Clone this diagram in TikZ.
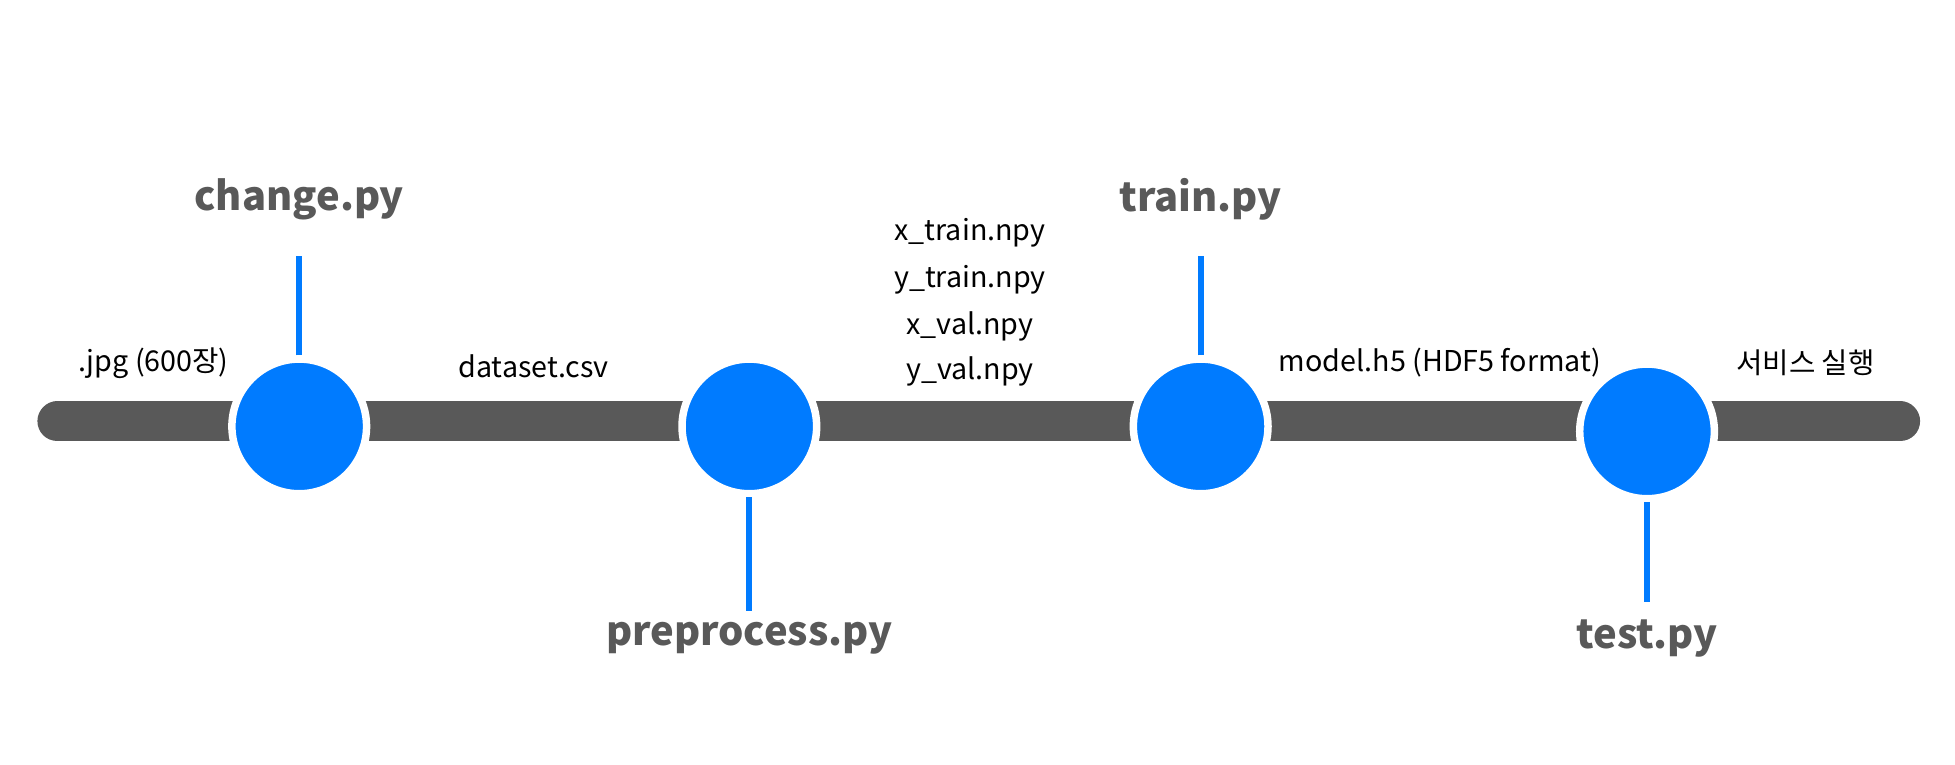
\documentclass[tikz,border=0pt]{standalone}
\usepackage{fontspec}
\setmainfont{Noto Sans CJK KR}
\definecolor{bar}{HTML}{595959}
\definecolor{dot}{HTML}{007BFF}
\definecolor{lbl}{HTML}{595959}
\begin{document}
\begin{tikzpicture}[x=0.5pt,y=-0.5pt,
  dotn/.style={circle,fill=dot,draw=white,line width=3pt,minimum size=54pt,inner sep=0pt},
  stem/.style={draw=dot,line width=2.5pt},
  steplbl/.style={font=\fontsize{16}{18}\selectfont\bfseries,text=lbl},
  data/.style={font=\fontsize{11.5}{14}\selectfont,text=black}]
\useasboundingbox (0,0) rectangle (1568,613);
\coordinate (L) at (46,338);
\coordinate (R) at (1524,338);
\draw[bar,line width=16pt,line cap=round] (L) -- (R);
\coordinate (t1) at (240,205);
\coordinate (t2) at (601,490);
\coordinate (t3) at (963,205);
\coordinate (t4) at (1321,483);
\node[dotn] (c1) at (240,342) {};
\node[dotn] (c2) at (601,342) {};
\node[dotn] (c3) at (963,342) {};
\node[dotn] (c4) at (1321,346) {};
\draw[stem] (c1.north) -- (t1);
\draw[stem] (c3.north) -- (t3);
\draw[stem] (c2.south) -- (t2);
\draw[stem] (c4.south) -- (t4);
\node[steplbl] (n1) at (240,160) {change.py};
\node[steplbl] (n2) at (601,512) {preprocess.py};
\node[steplbl] (n3) at (963,160) {train.py};
\node[steplbl] (n4) at (1321,512) {test.py};
\node[data] (d1) at (123,291) {.jpg (600장)};
\node[data] (d2) at (428,294) {dataset.csv};
\node[data] (d3a) at (778,187) {x\_train.npy};
\node[data] (d3b) at (778,224) {y\_train.npy};
\node[data] (d3c) at (778,262) {x\_val.npy};
\node[data] (d3d) at (778,298) {y\_val.npy};
\node[data] (d4) at (1155,291) {model.h5 (HDF5 format)};
\node[data] (d5) at (1448,291) {서비스 실행};
\end{tikzpicture}
\end{document}
